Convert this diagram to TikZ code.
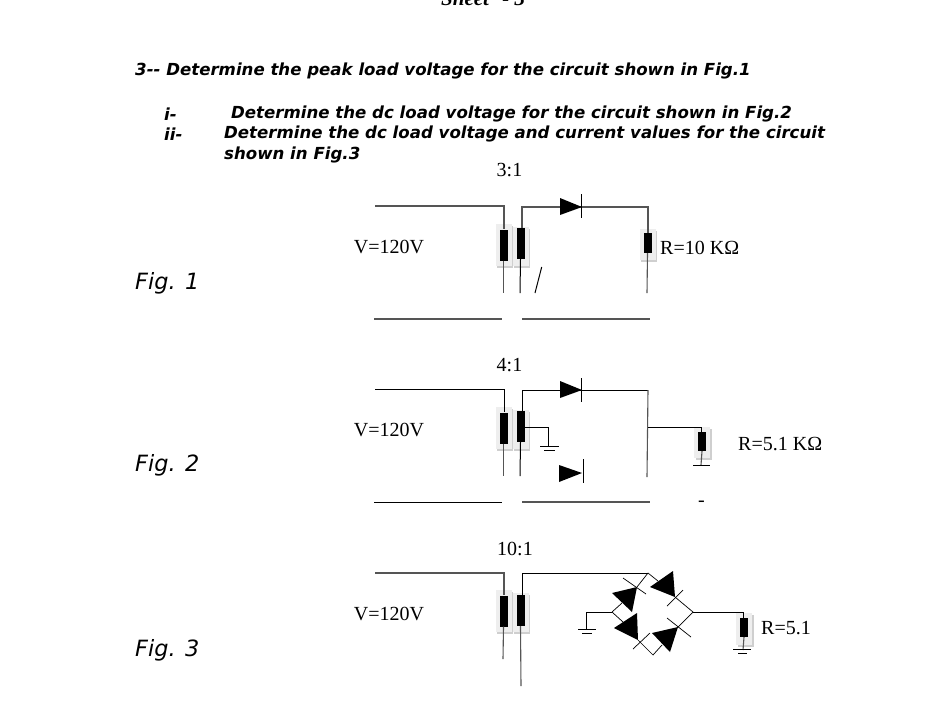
\documentclass[tikz,border=0pt]{standalone}
\usepackage{fontspec}
\setmainfont{Liberation Serif}
\newfontfamily\vf{DejaVu Sans}
\definecolor{wiregray}{HTML}{555555}
\definecolor{halofill}{HTML}{EEEEEE}
\definecolor{haloshade}{HTML}{CFCFCF}
\tikzset{
  x=1pt,y=-1pt,
  wire/.style={draw=black,line width=1pt},
  gwire/.style={draw=wiregray,line width=1.1pt},
  thin wire/.style={draw=black,line width=0.7pt},
  halo/.style={fill=halofill,draw=none,inner sep=0pt,minimum width=16pt,minimum height=#1},
  haloback/.style={fill=haloshade,draw=none,inner sep=0pt,minimum width=16pt,minimum height=#1},
  coreblk/.style={fill=black,draw=none,inner sep=0pt,minimum width=8pt,minimum height=#1},
  q/.style={font=\vf\bfseries\itshape\fontsize{16.6}{19}\selectfont,anchor=west,inner sep=0pt},
  fig/.style={font=\vf\itshape\fontsize{22.4}{26}\selectfont,anchor=west,inner sep=0pt},
  lab/.style={font=\fontsize{20}{23}\selectfont,inner sep=0pt},
  labw/.style={lab,anchor=west}
}
\newcommand{\compo}[6]{% name, hx, hy, hh, by, bh
  \node[haloback=#4] (#1s) at ([xshift=1.5pt,yshift=-2pt]#2,#3) {};
  \node[halo=#4] (#1h) at (#2,#3) {};
  \node[coreblk=#6] (#1) at (#2,#5) {};
}
\newcommand{\dtri}[7]{\fill[black] (#1,#2) -- (#3,#4) -- (#5,#6) -- cycle;}
\begin{document}
\begin{tikzpicture}
\useasboundingbox (0,0) rectangle (943,721);
\fill[white] (0,0) rectangle (943,721);
% texts
\node[font=\bfseries\itshape\fontsize{21}{24}\selectfont,anchor=base west,inner sep=0pt] (sheet) at (441,5) {Sheet \hspace{8pt}- 3};
\node[q] (t1) at (135,71) {3-- Determine the peak load voltage for the circuit shown in Fig.1};
\node[q] (t2) at (164,114) {i-};
\node[q] (t3) at (231,114) {Determine the dc load voltage for the circuit shown in Fig.2};
\node[q] (t4) at (164,134) {ii-};
\node[q] (t5) at (224,134) {Determine the dc load voltage and current values for the circuit};
\node[q] (t6) at (224,155) {shown in Fig.3};
\node[fig] (f1) at (135,283) {Fig. 1};
\node[fig] (f2) at (135,465) {Fig. 2};
\node[fig] (f3) at (135,650) {Fig. 3};
% ---------- Fig 1
\node[lab] (r1) at (509.5,170) {3:1};
\node[lab] (v1) at (389,247) {V=120V};
\node[labw] (R1) at (660,248) {R=10 KΩ};
\compo{pa}{503.5}{245}{42pt}{245}{31pt}
\compo{sa}{520.5}{246}{39pt}{243.5}{31pt}
\compo{ra}{647.5}{244}{31pt}{243}{20pt}
\coordinate (a1) at (375,206); \coordinate (a2) at (504,206);
\coordinate (a3) at (503.5,293); \coordinate (a4) at (522,207);
\coordinate (a5) at (648,207); \coordinate (a6) at (520,293);
\coordinate (a7) at (647,293);
\coordinate (a8) at (541.7,267); \coordinate (a9) at (535,293);
\coordinate (a10) at (374,319); \coordinate (a11) at (502,319);
\coordinate (a12) at (522,319); \coordinate (a13) at (650,319);
\draw[gwire] (a1) -- (a2) -- (pa.north-|a2);
\draw[gwire] (pa.south) -- (a3);
\draw[gwire] (sa.north-|a4) -- (a4) -- (a5) -- (ra.north-|a5);
\draw[wire] (sa.south) -- (a6);
\draw[gwire] (ra.south) -- (a7);
\draw[wire] (a8) -- (a9);
\draw[gwire] (a10) -- (a11);
\draw[gwire] (a12) -- (a13);
\dtri{560}{198}{560}{215}{582}{207}{}
\draw[wire] (581.5,194) -- (581.5,218);
% ---------- Fig 2
\node[lab] (r2) at (509.5,365) {4:1};
\node[lab] (v2) at (389,430) {V=120V};
\node[labw] (R2) at (738,444) {R=5.1 KΩ};
\compo{pb}{503.5}{428}{42pt}{428}{31pt}
\compo{sb}{520.5}{429}{39pt}{426.5}{31pt}
\compo{rb}{702}{442}{31pt}{441.5}{19pt}
\coordinate (b1) at (375,389); \coordinate (b2) at (504,389);
\coordinate (b3) at (503.5,476); \coordinate (b4) at (522,390);
\coordinate (b5) at (648,390); \coordinate (b6) at (520,476);
\coordinate (b7) at (647,477); \coordinate (b8) at (648,427);
\coordinate (b9) at (701,427); \coordinate (b10) at (701,465);
\coordinate (b11) at (525,427); \coordinate (b12) at (548,427);
\coordinate (b13) at (548,446);
\coordinate (b14) at (374,502); \coordinate (b15) at (502,502);
\coordinate (b16) at (522,502); \coordinate (b17) at (650,502);
\draw[wire] (b1) -- (b2) -- (pb.north-|b2);
\draw[gwire] (pb.south) -- (b3);
\draw[wire] (sb.north-|b4) -- (b4) -- (b5);
\draw[gwire] (b5) -- (b7);
\draw[wire] (sb.south) -- (b6);
\draw[wire] (b8) -- (b9) -- (rb.north-|b9);
\draw[gwire] (rb.south) -- (b10);
\draw[wire] (693,465) -- (710,465);
\draw[wire] (b11) -- (b12) -- (b13);
\draw[wire] (540,446) -- (559,446);
\draw[wire] (544,450) -- (555,450);
\draw[wire] (b14) -- (b15);
\draw[gwire] (b16) -- (b17);
\node[lab] (dash) at (701.5,504) {-};
\dtri{560}{381}{560}{398}{582}{390}{}
\draw[wire] (581.5,378) -- (581.5,402);
\dtri{559}{465}{559}{482}{582}{473}{}
\draw[wire] (583,459) -- (583,483);
% ---------- Fig 3
\node[lab] (r3) at (515,549) {10:1};
\node[lab] (v3) at (389,614) {V=120V};
\node[labw] (R3) at (761,628) {R=5.1};
\compo{pc}{503.5}{611}{42pt}{611}{31pt}
\compo{sc}{520.5}{612}{39pt}{610.5}{31pt}
\compo{rc}{744}{629}{32pt}{627.5}{19pt}
\coordinate (c1) at (375,573); \coordinate (c2) at (504,573);
\coordinate (c3) at (503,659); \coordinate (c4) at (522,573);
\coordinate (top) at (648,573); \coordinate (c6) at (521,686);
\coordinate (lft) at (612,612); \coordinate (rgt) at (693,612);
\coordinate (bot) at (653,655);
\coordinate (c7) at (743,612); \coordinate (c8) at (743,650);
\coordinate (c9) at (586,612); \coordinate (c10) at (586,629);
\draw[gwire] (c1) -- (c2) -- (pc.north-|c2);
\draw[gwire] (pc.south) -- (c3);
\draw[wire] (sc.north-|c4) -- (c4) -- (top);
\draw[gwire] (sc.south) -- (c6);
\draw[wire] (rgt) -- (c7) -- (rc.north-|c7);
\draw[gwire] (rc.south) -- (c8);
\draw[wire] (733,649) -- (751,649);
\draw[wire] (738,653) -- (747,653);
\draw[wire] (lft) -- (c9) -- (c10);
\draw[wire] (578,629) -- (596,629);
\draw[wire] (582,633) -- (592,633);
% bridge
\draw[thin wire] (637,587) -- (top) -- (658,581);
\draw[thin wire] (lft) -- (622,603);
\draw[thin wire] (675,597) -- (rgt) -- (678,627);
\draw[thin wire] (lft) -- (623,622);
\draw[thin wire] (638,640) -- (bot) -- (662,645);
\draw[thin wire] (623,578) -- (646,594);
\draw[thin wire] (667,606) -- (683,590);
\draw[thin wire] (633,649) -- (650,633);
\draw[thin wire] (667,618) -- (691,637);
\dtri{612}{593}{637}{587}{632}{612}{}
\dtri{650}{587}{673}{571}{675}{597}{}
\dtri{614}{628}{637}{613}{638}{640}{}
\dtri{652}{633}{678}{627}{670}{652}{}
\end{tikzpicture}
\end{document}
